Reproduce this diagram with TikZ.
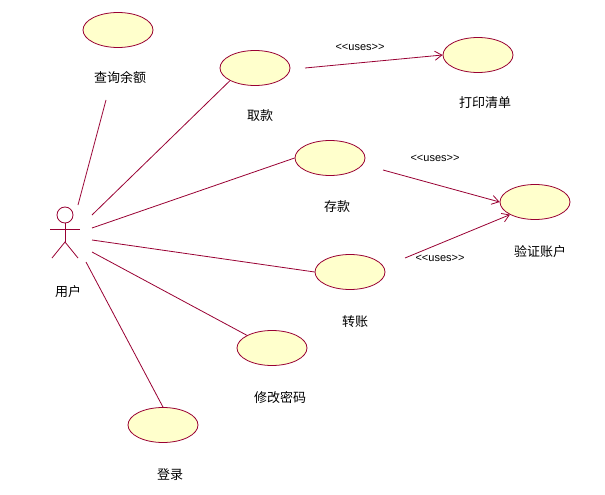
\documentclass[tikz,border=0pt]{standalone}
\usepackage{fontspec}
\newfontfamily\cjk{Noto Sans CJK SC}
\newfontfamily\stfont{Liberation Sans}
\usetikzlibrary{arrows.meta,shapes.geometric}
\definecolor{ucline}{HTML}{990033}
\definecolor{ucfill}{HTML}{FFFFCC}
\tikzset{
  usecase/.style={draw=ucline, fill=ucfill, ellipse, minimum width=70pt, minimum height=35pt, line width=0.8pt},
  uclabel/.style={font=\cjk\fontsize{13}{15}\selectfont},
  assoc/.style={draw=ucline, line width=0.8pt},
  uses/.style={draw=ucline, line width=0.8pt, -{Straight Barb[length=7pt,width=9pt]}},
  stereo/.style={font=\stfont\fontsize{11}{13}\selectfont}
}
\newcommand{\usestext}{\textless\textless uses\textgreater\textgreater}
\begin{document}
\begin{tikzpicture}[x=1pt,y=-1pt]
    \useasboundingbox[fill=white] (0,0) rectangle (605,495);
    % 用例
    \node[usecase] (chaxun) at (118,30) {};
    \node[uclabel] at (120,78) {查询余额};
    \node[usecase] (qukuan) at (255,68) {};
    \node[uclabel] at (260,116) {取款};
    \node[usecase] (dayin) at (478,55) {};
    \node[uclabel] at (485,103) {打印清单};
    \node[usecase] (cunkuan) at (330,158) {};
    \node[uclabel] at (337,207) {存款};
    \node[usecase] (yanzheng) at (535,202) {};
    \node[uclabel] at (540,252) {验证账户};
    \node[usecase] (zhuanzhang) at (350,272) {};
    \node[uclabel] at (355,322) {转账};
    \node[usecase] (xiugai) at (272,348) {};
    \node[uclabel] at (280,398) {修改密码};
    \node[usecase] (denglu) at (163,425) {};
    \node[uclabel] at (170,475) {登录};

    % 参与者
    \draw[assoc] (65,215) circle (8);
    \draw[assoc] (65,223) -- (65,242);
    \draw[assoc] (50,229) -- (80,229);
    \draw[assoc] (52,258) -- (65,242) -- (78,258);
    \node[uclabel] (yonghu) at (68,292) {用户};

    % 关联
    \coordinate (a1) at (78,205);
    \coordinate (a2) at (92,215);
    \coordinate (a3) at (92,228);
    \coordinate (a4) at (92,240);
    \coordinate (a5) at (92,252);
    \coordinate (a6) at (86,262);
    \coordinate (e1) at (106,100);
    \draw[assoc] (a1) -- (e1);
    \draw[assoc] (a2) -- (qukuan.south west);
    \draw[assoc] (a3) -- (cunkuan.west);
    \draw[assoc] (a4) -- (zhuanzhang.west);
    \draw[assoc] (a5) -- (xiugai.north west);
    \draw[assoc] (a6) -- (denglu.north);

    % 包含
    \coordinate (u1) at (305,68);
    \coordinate (u2) at (383,170);
    \coordinate (u3) at (405,258);
    \draw[uses] (u1) -- (dayin.west);
    \node[stereo] at (360,47) {\usestext};
    \draw[uses] (u2) -- (yanzheng.west);
    \node[stereo] at (435,158) {\usestext};
    \draw[uses] (u3) -- (yanzheng.south west);
    \node[stereo] at (440,258) {\usestext};
\end{tikzpicture}
\end{document}
